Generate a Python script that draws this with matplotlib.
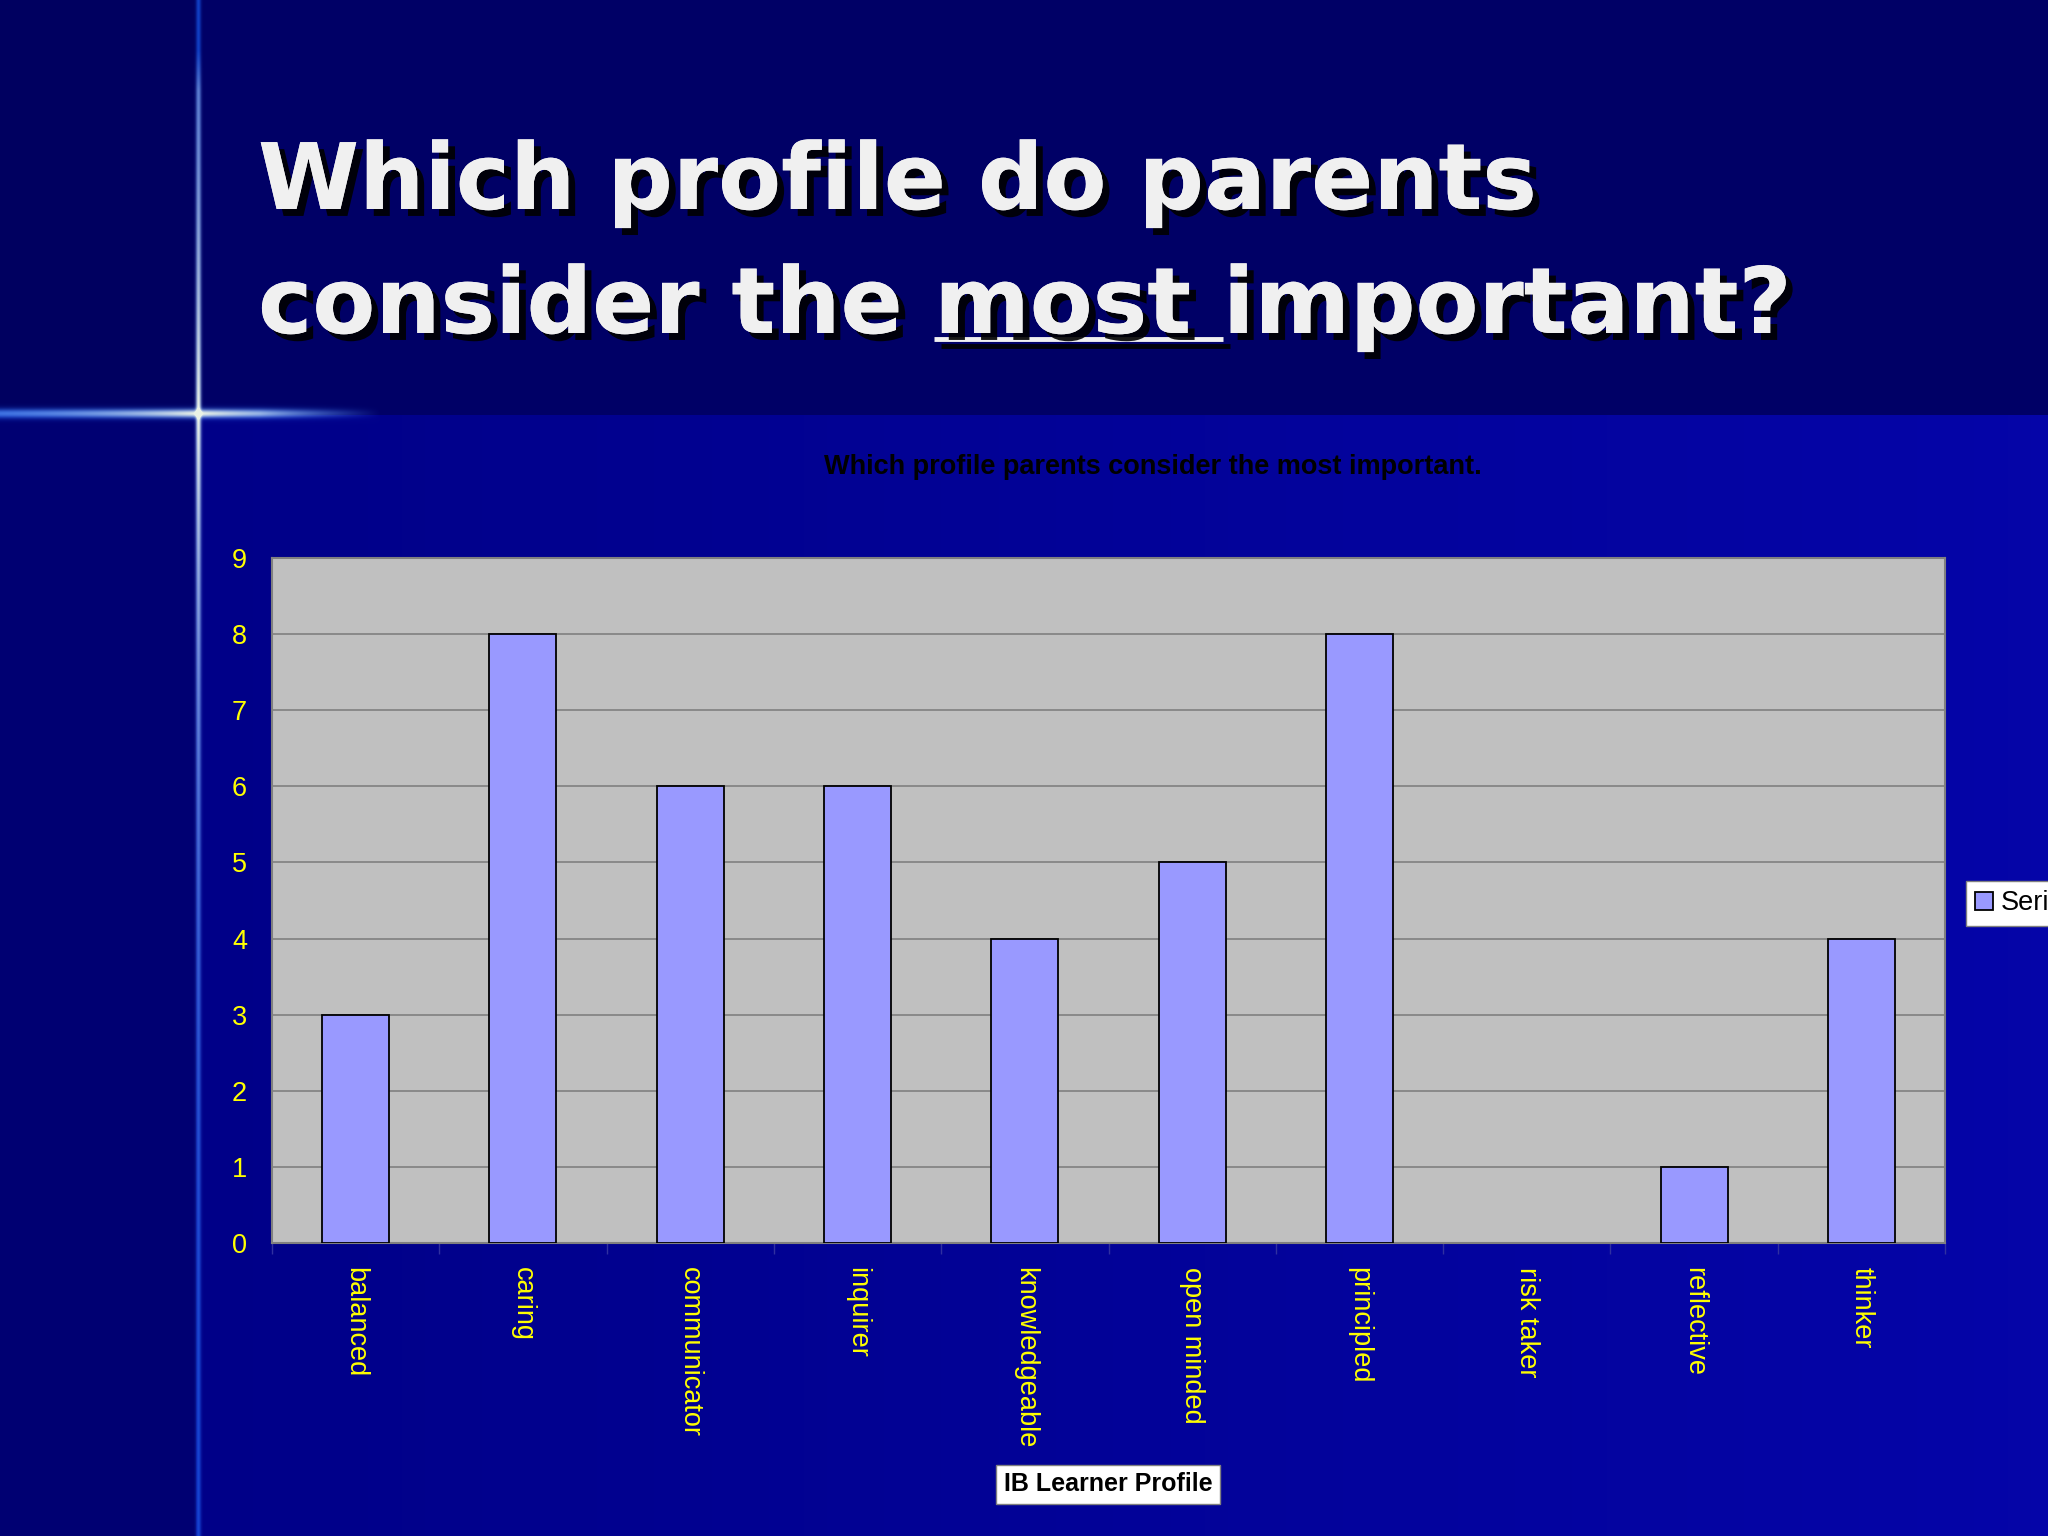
"""
IB learner profile survey slide: bar chart on blue slide background
"""

import matplotlib

matplotlib.use("Agg")
import matplotlib.pyplot as plt
import matplotlib.patheffects as pe
import numpy as np

categories = [
    "balanced",
    "caring",
    "communicator",
    "inquirer",
    "knowledgeable",
    "open minded",
    "principled",
    "risk taker",
    "reflective",
    "thinker",
]
counts = [3, 8, 6, 6, 4, 5, 8, 0, 1, 4]
yticks = list(range(0, 10))

slide_title = ["Which profile do parents", "consider the ", "most ", "important?"]
chart_title = "Which profile parents consider the most important."
xlabel = "IB Learner Profile"
series_name = "Series1"

W, H = 2048, 1536
fig = plt.figure(figsize=(W / 100, H / 100), dpi=100)

# ---- slide background ----
bg = fig.add_axes([0, 0, 1, 1])
bg.set_xlim(0, W)
bg.set_ylim(H, 0)
bg.axis("off")

xx, yy = np.meshgrid(np.arange(W), np.arange(H))
img = np.zeros((H, W, 3))
top = yy < 415
# upper band: dark navy
img[..., 2] = 0.40
# lower band: brighter blue, lighter to the right
lower = ~top
img[..., 2][lower] = 0.52 + 0.14 * (xx[lower] / W)
img[..., 0][lower] = 0.02 * (xx[lower] / W)
img[..., 1][lower] = 0.02 * (xx[lower] / W)
# left strip darker
strip = lower & (xx < 196)
img[..., 2][strip] = 0.45
img[..., 2][top & (xx < 196)] = 0.38

# light flare lines
hend = np.clip((380 - xx) / 120.0, 0, 1)
vx = np.exp(-((xx - 198) ** 2) / (2 * 1.8 ** 2))
vfade = np.clip(np.exp(-np.abs(yy - 413) / 300.0), 0, 1) * np.clip((yy - 50) / 40.0, 0, 1)
hy = np.exp(-((yy - 413) ** 2) / (2 * 2.6 ** 2))
hfade = np.clip(np.exp(-np.abs(xx - 198) / 120.0), 0, 1) * hend
core = np.clip(vx * vfade + hy * hfade, 0, 1)
blue_glow = np.clip(vx * 0.6 + np.exp(-((yy - 413) ** 2) / (2 * 3.5 ** 2)) * hend * 0.8, 0, 1)
glow_col = np.array([0.1, 0.4, 1.0])
img = img * (1 - blue_glow[..., None]) + glow_col * blue_glow[..., None]
flare = np.array([0.92, 0.95, 0.9])
img = img * (1 - core[..., None]) + flare * core[..., None]
bg.imshow(img, extent=(0, W, H, 0), aspect="auto", zorder=0)

# ---- slide title ----
shadow = [pe.withSimplePatchShadow(offset=(5, -5), shadow_rgbFace="black", alpha=0.9), pe.Normal()]
tkw = dict(fontsize=66, fontweight="bold", color="#F0F0F0", family="DejaVu Sans",
           va="baseline", ha="left", path_effects=shadow)
bg.text(258, 209, slide_title[0], **tkw)

fig.canvas.draw()
renderer = fig.canvas.get_renderer()


def text_width(s):
    t = bg.text(0, 0, s, fontsize=66, fontweight="bold", family="DejaVu Sans")
    w = t.get_window_extent(renderer).width
    t.remove()
    return w


space_w = text_width("a b") - text_width("ab")
x0 = 258
w1 = text_width(slide_title[1].strip()) + space_w
w2 = text_width(slide_title[2].strip()) + space_w
bg.text(x0, 333, slide_title[1], **tkw)
bg.text(x0 + w1, 333, slide_title[2], **tkw)
bg.text(x0 + w1 + w2, 333, slide_title[3], **tkw)
bg.plot([x0 + w1, x0 + w1 + w2], [339, 339], color="#F0F0F0", lw=3.5,
        solid_capstyle="butt",
        path_effects=[pe.SimpleLineShadow(offset=(5, -5), shadow_color="black", alpha=0.9), pe.Normal()])

# ---- chart ----
left, right, ptop, pbot = 272, 1945, 558, 1243
ax = fig.add_axes([left / W, 1 - pbot / H, (right - left) / W, (pbot - ptop) / H])
ax.set_facecolor("#C0C0C0")
x = np.arange(len(categories))
bars = ax.bar(x, counts, width=0.4, color="#9999FF", edgecolor="black", linewidth=1.3,
              zorder=3, label=series_name)
for b, v in zip(bars, counts):
    if v == 0:
        b.set_linewidth(0)
ax.set_xlim(-0.5, len(categories) - 0.5)
ax.set_ylim(0, 9)
ax.set_yticks(yticks)
ax.yaxis.grid(True, color="#808080", linewidth=1.2, zorder=1)
ax.set_axisbelow(True)
for s in ax.spines.values():
    s.set_color("#808080")
    s.set_linewidth(1.5)
ax.set_xticks(x)
ax.set_xticklabels(categories, rotation=270, va="top", ha="center",
                   fontsize=19.5, color="yellow", family="Liberation Sans")
ax.set_xticks(np.arange(len(categories) + 1) - 0.5, minor=True)
ax.tick_params(axis="x", which="major", length=0, pad=17)
ax.tick_params(axis="x", which="minor", length=8, color="#3030A0", width=1)
ax.tick_params(axis="y", length=0, pad=18, labelsize=19.5, labelcolor="yellow")
for lab in ax.get_yticklabels():
    lab.set_family("Liberation Sans")

fig.text(1153 / W, 1 - 467 / H, chart_title, ha="center", va="center", fontsize=19.5,
         fontweight="bold", color="black", family="Liberation Sans")

fig.text(1108 / W, 1 - 1484 / H, xlabel, ha="center", va="center", fontsize=18,
         fontweight="bold", color="black", family="Liberation Sans",
         bbox=dict(boxstyle="square,pad=0.3", facecolor="white", edgecolor="#808080", linewidth=1))

leg = fig.legend(loc="upper left", bbox_to_anchor=(1966 / W, 1 - 881 / H), frameon=True,
                 fancybox=False, framealpha=1, handlelength=0.65, handleheight=0.65,
                 handletextpad=0.3, borderpad=0.35, borderaxespad=0,
                 prop={"family": "Liberation Sans", "size": 19.5})
leg.get_frame().set_edgecolor("#808080")
leg.get_frame().set_linewidth(1)

fig.savefig("out.png", dpi=100)
